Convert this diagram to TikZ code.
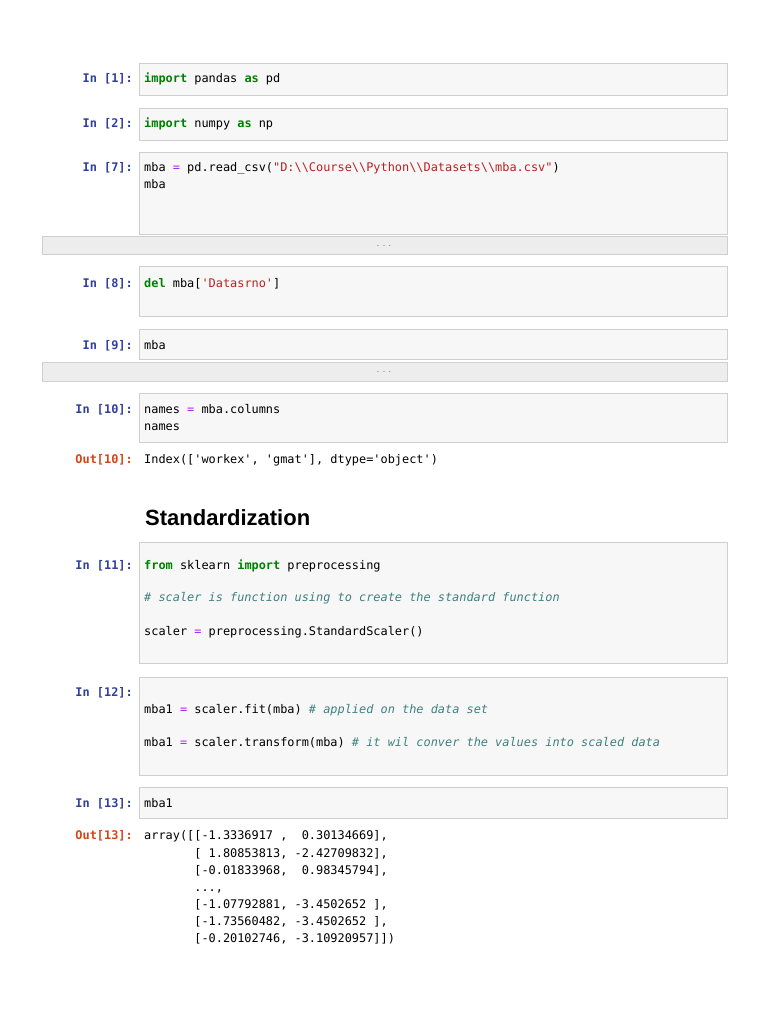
\documentclass[tikz,border=0pt]{standalone}
\usepackage{fontspec}
\setmainfont{Liberation Sans}
\newfontfamily\cellmono{DejaVu Sans Mono}[Scale=1]
\definecolor{kw}{HTML}{008000}
\definecolor{st}{HTML}{BA2121}
\definecolor{cm}{HTML}{408080}
\definecolor{op}{HTML}{AA22FF}
\definecolor{pin}{HTML}{303F9F}
\definecolor{pout}{HTML}{D84315}
\definecolor{cellbg}{HTML}{F7F7F7}
\definecolor{cellbd}{HTML}{CFCFCF}
\newcommand{\K}[1]{\textcolor{kw}{\bfseries #1}}
\newcommand{\Sg}[1]{\textcolor{st}{#1}}
\newcommand{\Cm}[1]{\textcolor{cm}{\itshape #1}}
\newcommand{\Op}{\textcolor{op}{=}}
\begin{document}
\begin{tikzpicture}[x=1pt,y=-1pt,
  cellbox/.style={draw=cellbd,fill=cellbg,line width=0.8pt},
  barbox/.style={draw=cellbd,fill=white!93!black,line width=0.8pt},
  code/.style={anchor=base west,inner sep=0pt,yshift=-2pt,font=\cellmono\fontsize{11.9}{14}\selectfont},
  pin/.style={anchor=base east,inner sep=0pt,yshift=-2pt,text=pin,font=\cellmono\bfseries\fontsize{11.9}{14}\selectfont},
  pout/.style={anchor=base east,inner sep=0pt,yshift=-2pt,text=pout,font=\cellmono\bfseries\fontsize{11.9}{14}\selectfont},
  dots/.style={inner sep=0pt,text=black!60,font=\fontsize{9}{10}\selectfont}]
\useasboundingbox (0,0) rectangle (768,1024);
% cells
\draw[cellbox] (139,63) rectangle (727,95);
\node[pin] (p1) at (133,81) {In [1]:};
\node[code] (c1) at (144,81) {\K{import} pandas \K{as} pd};
\draw[cellbox] (139,108) rectangle (727,140);
\node[pin] (p2) at (133,126) {In [2]:};
\node[code] (c2) at (144,126) {\K{import} numpy \K{as} np};
\draw[cellbox] (139,152) rectangle (727,234);
\node[pin] (p7) at (133,170) {In [7]:};
\node[code] (c7a) at (144,170) {mba \Op{} pd.read\_csv(\Sg{"D:\textbackslash\textbackslash Course\textbackslash\textbackslash Python\textbackslash\textbackslash Datasets\textbackslash\textbackslash mba.csv"})};
\node[code] (c7b) at (144,187) {mba};
\draw[barbox] (42,236) rectangle (727,254);
\node[dots] (d1) at (384,246) {. . .};
\draw[cellbox] (139,266) rectangle (727,316);
\node[pin] (p8) at (133,285) {In [8]:};
\node[code] (c8) at (144,285) {\K{del} mba[\Sg{'Datasrno'}]};
\draw[cellbox] (139,329) rectangle (727,359);
\node[pin] (p9) at (133,347) {In [9]:};
\node[code] (c9) at (144,347) {mba};
\draw[barbox] (42,362) rectangle (727,381);
\node[dots] (d2) at (384,372) {. . .};
\draw[cellbox] (139,393) rectangle (727,442);
\node[pin] (p10) at (133,411) {In [10]:};
\node[code] (c10a) at (144,411) {names \Op{} mba.columns};
\node[code] (c10b) at (144,428) {names};
\node[pout] (o10) at (133,461) {Out[10]:};
\node[code] (r10) at (144,461) {Index(['workex', 'gmat'], dtype='object')};
\node[anchor=base west,inner sep=0pt,font=\bfseries\fontsize{22}{26}\selectfont] (h) at (145,525) {Standardization};
\draw[cellbox] (139,542) rectangle (727,663);
\node[pin] (p11) at (133,567) {In [11]:};
\node[code] (c11a) at (144,567) {\K{from} sklearn \K{import} preprocessing};
\node[code] (c11b) at (144,599) {\Cm{\# scaler is function using to create the standard function}};
\node[code] (c11c) at (144,633) {scaler \Op{} preprocessing.StandardScaler()};
\draw[cellbox] (139,677) rectangle (727,775);
\node[pin] (p12) at (133,694) {In [12]:};
\node[code] (c12a) at (144,711) {mba1 \Op{} scaler.fit(mba) \Cm{\# applied on the data set}};
\node[code] (c12b) at (144,744) {mba1 \Op{} scaler.transform(mba) \Cm{\# it wil conver the values into scaled data}};
\draw[cellbox] (139,787) rectangle (727,818);
\node[pin] (p13) at (133,805) {In [13]:};
\node[code] (c13) at (144,805) {mba1};
\node[pout] (o13) at (133,837) {Out[13]:};
\node[code] (r1) at (144,837) {array([[-1.3336917 ,\ \ 0.30134669],};
\node[code] (r2) at (144,855) {\ \ \ \ \ \ \ [ 1.80853813, -2.42709832],};
\node[code] (r3) at (144,872) {\ \ \ \ \ \ \ [-0.01833968,\ \ 0.98345794],};
\node[code] (r4) at (144,889) {\ \ \ \ \ \ \ ...,};
\node[code] (r5) at (144,906) {\ \ \ \ \ \ \ [-1.07792881, -3.4502652 ],};
\node[code] (r6) at (144,923) {\ \ \ \ \ \ \ [-1.73560482, -3.4502652 ],};
\node[code] (r7) at (144,940) {\ \ \ \ \ \ \ [-0.20102746, -3.10920957]])};
\end{tikzpicture}
\end{document}
